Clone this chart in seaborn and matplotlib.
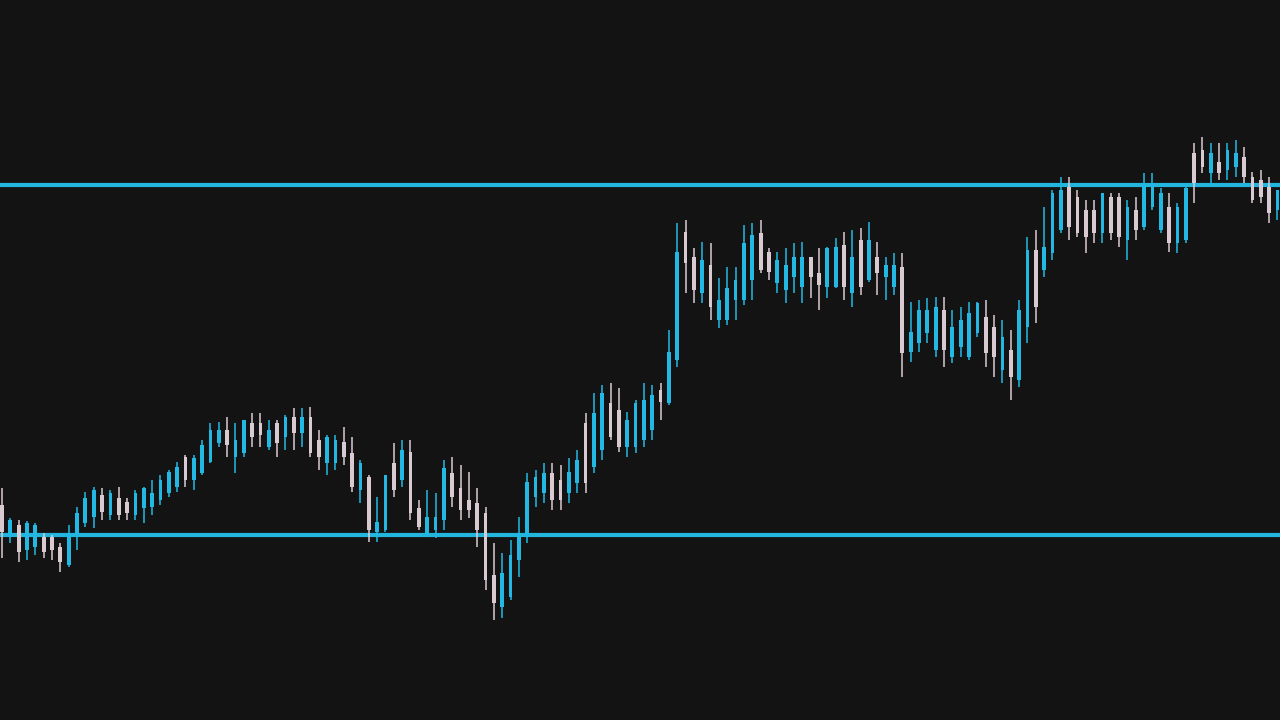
import numpy as np
import pandas as pd
import seaborn as sns
import matplotlib
matplotlib.use("Agg")
import matplotlib.pyplot as plt

# OHLC values (price units)
opens = [215, 183, 195, 170, 173, 183, 183, 173, 155, 187, 197, 203, 225, 205, 222, 218, 205, 212, 213, 220,
         227, 233, 263, 240, 247, 258, 277, 290, 263, 267, 297, 297, 273, 297, 283, 303, 287, 303, 280, 257,
         257, 278, 267, 230, 243, 188, 190, 257, 240, 268, 212, 187, 190, 200, 247, 232, 220, 217, 207, 145,
         113, 123, 160, 187, 223, 227, 247, 240, 227, 237, 297, 253, 270, 317, 310, 273, 273, 280, 290, 330,
         317, 360, 488, 463, 427, 455, 400, 400, 420, 420, 440, 487, 468, 437, 430, 443, 433, 463, 447, 433,
         433, 475, 427, 480, 440, 463, 443, 433, 453, 368, 377, 387, 370, 410, 363, 373, 363, 387, 403, 393,
         350, 370, 340, 393, 470, 450, 467, 490, 533, 523, 510, 510, 487, 523, 523, 480, 510, 493, 513, 490,
         513, 477, 480, 567, 570, 547, 558, 550, 553, 563, 543, 540, 533, 510]
highs = [232, 202, 200, 199, 197, 187, 185, 177, 195, 213, 228, 233, 232, 230, 233, 222, 230, 233, 240, 245,
         250, 258, 265, 265, 280, 297, 298, 303, 297, 300, 307, 307, 300, 300, 305, 312, 312, 313, 290, 285,
         285, 293, 283, 260, 245, 223, 245, 277, 280, 280, 220, 230, 227, 260, 263, 255, 248, 232, 213, 177,
         167, 180, 203, 247, 250, 257, 257, 255, 262, 270, 307, 327, 335, 337, 332, 308, 320, 337, 335, 337,
         390, 497, 500, 472, 478, 477, 442, 453, 453, 495, 497, 500, 472, 468, 472, 477, 478, 463, 472, 473,
         482, 488, 490, 492, 498, 478, 463, 467, 467, 418, 420, 422, 423, 423, 410, 413, 418, 418, 420, 405,
         400, 390, 420, 483, 490, 513, 530, 543, 543, 530, 520, 520, 527, 527, 527, 520, 523, 547, 547, 532,
         527, 517, 533, 577, 583, 577, 577, 577, 580, 573, 548, 550, 543, 530]
lows = [162, 177, 158, 160, 165, 162, 160, 148, 153, 170, 193, 192, 200, 200, 200, 200, 200, 197, 205, 215,
        223, 228, 233, 230, 245, 257, 273, 263, 247, 263, 273, 273, 270, 263, 270, 270, 273, 263, 250, 245,
        250, 255, 228, 217, 178, 178, 188, 223, 233, 200, 190, 183, 182, 190, 213, 200, 202, 173, 130, 100,
        102, 120, 143, 177, 213, 217, 210, 210, 217, 227, 227, 247, 260, 280, 268, 263, 267, 273, 280, 300,
        315, 353, 427, 417, 417, 400, 392, 395, 400, 415, 420, 447, 440, 427, 417, 427, 417, 422, 410, 422,
        432, 420, 413, 425, 438, 425, 420, 425, 343, 358, 368, 377, 363, 353, 357, 363, 360, 383, 353, 343,
        337, 320, 333, 377, 397, 443, 460, 487, 480, 483, 467, 477, 477, 480, 473, 460, 480, 490, 510, 487,
        468, 467, 477, 517, 547, 537, 540, 540, 543, 537, 517, 517, 497, 500]
closes = [188, 200, 168, 197, 195, 168, 170, 158, 187, 207, 222, 230, 208, 227, 205, 207, 227, 232, 227, 240,
          248, 253, 240, 262, 275, 290, 290, 275, 280, 300, 283, 285, 290, 277, 303, 287, 303, 267, 263, 283,
          280, 263, 233, 257, 190, 198, 245, 230, 270, 207, 193, 203, 203, 252, 223, 210, 210, 190, 140, 117,
          147, 165, 187, 238, 243, 247, 220, 220, 248, 260, 237, 307, 327, 283, 273, 300, 317, 320, 325, 318,
          368, 468, 457, 430, 460, 413, 420, 432, 440, 477, 485, 450, 448, 460, 455, 463, 463, 443, 435, 472,
          473, 433, 463, 433, 480, 447, 455, 455, 367, 388, 410, 410, 413, 370, 393, 400, 407, 417, 367, 363,
          383, 343, 410, 470, 413, 473, 527, 530, 493, 487, 483, 487, 527, 487, 483, 513, 490, 537, 537, 527,
          477, 513, 532, 537, 553, 567, 547, 570, 567, 543, 520, 523, 507, 530]

# Horizontal support / resistance levels
levels = [535, 185]

BG = "#141314"
UP = "#22b8e3"
DOWN = "#d9cad1"
LEVEL = "#22b6de"

sns.set_theme(style="dark", rc={"axes.facecolor": BG, "figure.facecolor": BG,
                                "axes.edgecolor": BG, "axes.grid": False})

df = pd.DataFrame({"open": opens, "high": highs, "low": lows, "close": closes})
df["idx"] = np.arange(len(df))
df["up"] = df["close"] >= df["open"]
df["color"] = np.where(df["up"], UP, DOWN)
df["bottom"] = df[["open", "close"]].min(axis=1)
df["height"] = (df["close"] - df["open"]).abs().clip(lower=2)

fig = plt.figure(figsize=(12.8, 7.2), dpi=100)
ax = fig.add_axes([0, 0, 1, 1])

for lv in levels:
    ax.axhline(lv, color=LEVEL, lw=3.0, zorder=1)

ax.vlines(df["idx"], df["low"], df["high"], colors=df["color"], lw=1.3, alpha=0.85, zorder=2)
ax.bar(df["idx"], df["height"], bottom=df["bottom"], width=0.45, color=df["color"],
       edgecolor="none", zorder=3)

ax.set_xlim(-0.24, 153.3)
ax.set_ylim(0, 720)
ax.set_axis_off()
sns.despine(ax=ax, left=True, bottom=True)

fig.savefig("out.png", dpi=100, facecolor=BG)
